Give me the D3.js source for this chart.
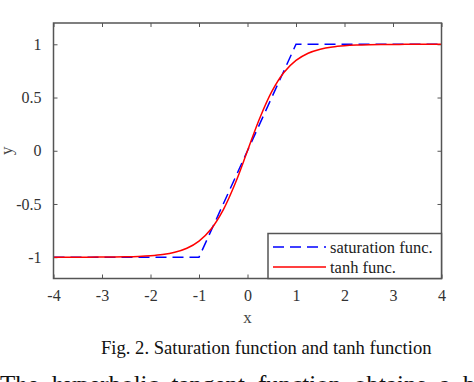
<!DOCTYPE html>
<html>
<head>
<meta charset="utf-8">
<script src="https://cdn.jsdelivr.net/npm/d3@7"></script>
<style>
  html, body { margin: 0; padding: 0; background: #fff; }
  svg { display: block; }
  text { font-family: "Liberation Serif", "Times New Roman", serif; }
</style>
</head>
<body>
<svg id="chart" width="474" height="382"></svg>
<script>
// ---- data ----
const xTicks = [-4, -3, -2, -1, 0, 1, 2, 3, 4];
const yTicks = [-1, -0.5, 0, 0.5, 1];
const yTickLabels = ["-1", "-0.5", "0", "0.5", "1"];
const satX = [-4, -1, 1, 4];
const satY = [-1, -1, 1, 1];
const tanhX = [-4, -3.75, -3.5, -3.25, -3, -2.75, -2.5, -2.25, -2, -1.75, -1.5, -1.25, -1, -0.75, -0.5, -0.25,
               0, 0.25, 0.5, 0.75, 1, 1.25, 1.5, 1.75, 2, 2.25, 2.5, 2.75, 3, 3.25, 3.5, 3.75, 4];
const tanhY = [-1.0, -0.9998, -0.9997, -0.9994, -0.9989, -0.9979, -0.9962, -0.9928, -0.9866, -0.9752, -0.9539,
               -0.916, -0.8483, -0.7343, -0.5546, -0.3028,
               0, 0.3028, 0.5546, 0.7343, 0.8483, 0.916, 0.9539, 0.9752, 0.9866, 0.9928, 0.9962, 0.9979,
               0.9989, 0.9994, 0.9997, 0.9998, 1.0];
const seriesNames = ["saturation func.", "tanh func."];
const xLabel = "x";
const yLabel = "y";
const caption = "Fig. 2. Saturation function and tanh function";
const bodyText = "The hyperbolic tangent function obtains a better";

// ---- layout ----
const svg = d3.select("#chart");
const L = 53.5, R = 441.5, T = 23, B = 278.5;
const axisColor = "#555";
const x = d3.scaleLinear().domain([-4, 4]).range([L, R]);
const y = d3.scaleLinear().domain([-1.2, 1.2]).range([B, T]);

// axes
function styleAxis(g) {
  g.attr("font-family", null);
  g.select(".domain").remove();
  g.selectAll(".tick line").attr("stroke", axisColor).attr("stroke-width", 1);
  g.selectAll(".tick text").attr("fill", "#333").style("font-size", "16px")
    .style("font-family", "'Liberation Serif', serif");
}
svg.append("g").attr("transform", `translate(0,${B})`)
  .call(d3.axisBottom(x).tickValues(xTicks).tickSize(-4).tickPadding(11).tickFormat(d => String(d)))
  .call(styleAxis);
svg.append("g").attr("transform", `translate(0,${T})`)
  .call(d3.axisTop(x).tickValues(xTicks).tickSize(-4).tickFormat(""))
  .call(styleAxis);
svg.append("g").attr("transform", `translate(${L},0)`)
  .call(d3.axisLeft(y).tickValues(yTicks).tickSize(-4).tickPadding(12).tickFormat((d, i) => yTickLabels[i]))
  .call(styleAxis);
svg.append("g").attr("transform", `translate(${R},0)`)
  .call(d3.axisRight(y).tickValues(yTicks).tickSize(-4).tickFormat(""))
  .call(styleAxis);

// clip
svg.append("clipPath").attr("id", "clip").append("rect")
  .attr("x", L).attr("y", T).attr("width", R - L).attr("height", B - T);

const line = d3.line().x(d => x(d[0])).y(d => y(d[1]));
const plot = svg.append("g").attr("clip-path", "url(#clip)");

plot.append("path")
  .datum(d3.zip(satX, satY))
  .attr("d", line)
  .attr("fill", "none").attr("stroke", "#0000ff").attr("stroke-width", 1.5)
  .attr("stroke-dasharray", "11,6");

plot.append("path")
  .datum(d3.zip(tanhX, tanhY))
  .attr("d", line.curve(d3.curveCatmullRom.alpha(0.5)))
  .attr("fill", "none").attr("stroke", "#ff0000").attr("stroke-width", 1.5);

// box
svg.append("rect").attr("x", L).attr("y", T).attr("width", R - L).attr("height", B - T)
  .attr("fill", "none").attr("stroke", axisColor).attr("stroke-width", 1.5);

// legend
const lg = svg.append("g");
const lgX = 268, lgY = 233.5;
lg.append("rect").attr("x", lgX).attr("y", lgY).attr("width", R - lgX).attr("height", B - lgY)
  .attr("fill", "#fff").attr("stroke", axisColor).attr("stroke-width", 1.5);
const rows = [
  { name: seriesNames[0], color: "#0000ff", dash: "11,6", yy: 247 },
  { name: seriesNames[1], color: "#ff0000", dash: null, yy: 267 }
];
rows.forEach(r => {
  lg.append("line").attr("x1", 273).attr("x2", 326).attr("y1", r.yy).attr("y2", r.yy)
    .attr("stroke", r.color).attr("stroke-width", 1.5)
    .attr("stroke-dasharray", r.dash);
  lg.append("text").attr("x", 330).attr("y", r.yy + 5.5).text(r.name)
    .style("font-size", "16.5px").attr("fill", "#222");
});

// axis labels
svg.append("text").attr("x", (L + R) / 2).attr("y", 323).attr("text-anchor", "middle")
  .style("font-size", "17px").attr("fill", "#444").text(xLabel);
svg.append("text").attr("transform", `translate(12,${(T + B) / 2}) rotate(-90)`)
  .attr("text-anchor", "middle").style("font-size", "17px").attr("fill", "#444").text(yLabel);

// caption
svg.append("text").attr("x", 101).attr("y", 354).style("font-size", "18.6px")
  .attr("fill", "#111").text(caption);

// start of the following paragraph (cut by the bottom edge, as in the source)
svg.append("text").attr("x", 0).attr("y", 393).style("font-size", "25px")
  .style("word-spacing", "6.6px").attr("fill", "#111").text(bodyText);
</script>
</body>
</html>
